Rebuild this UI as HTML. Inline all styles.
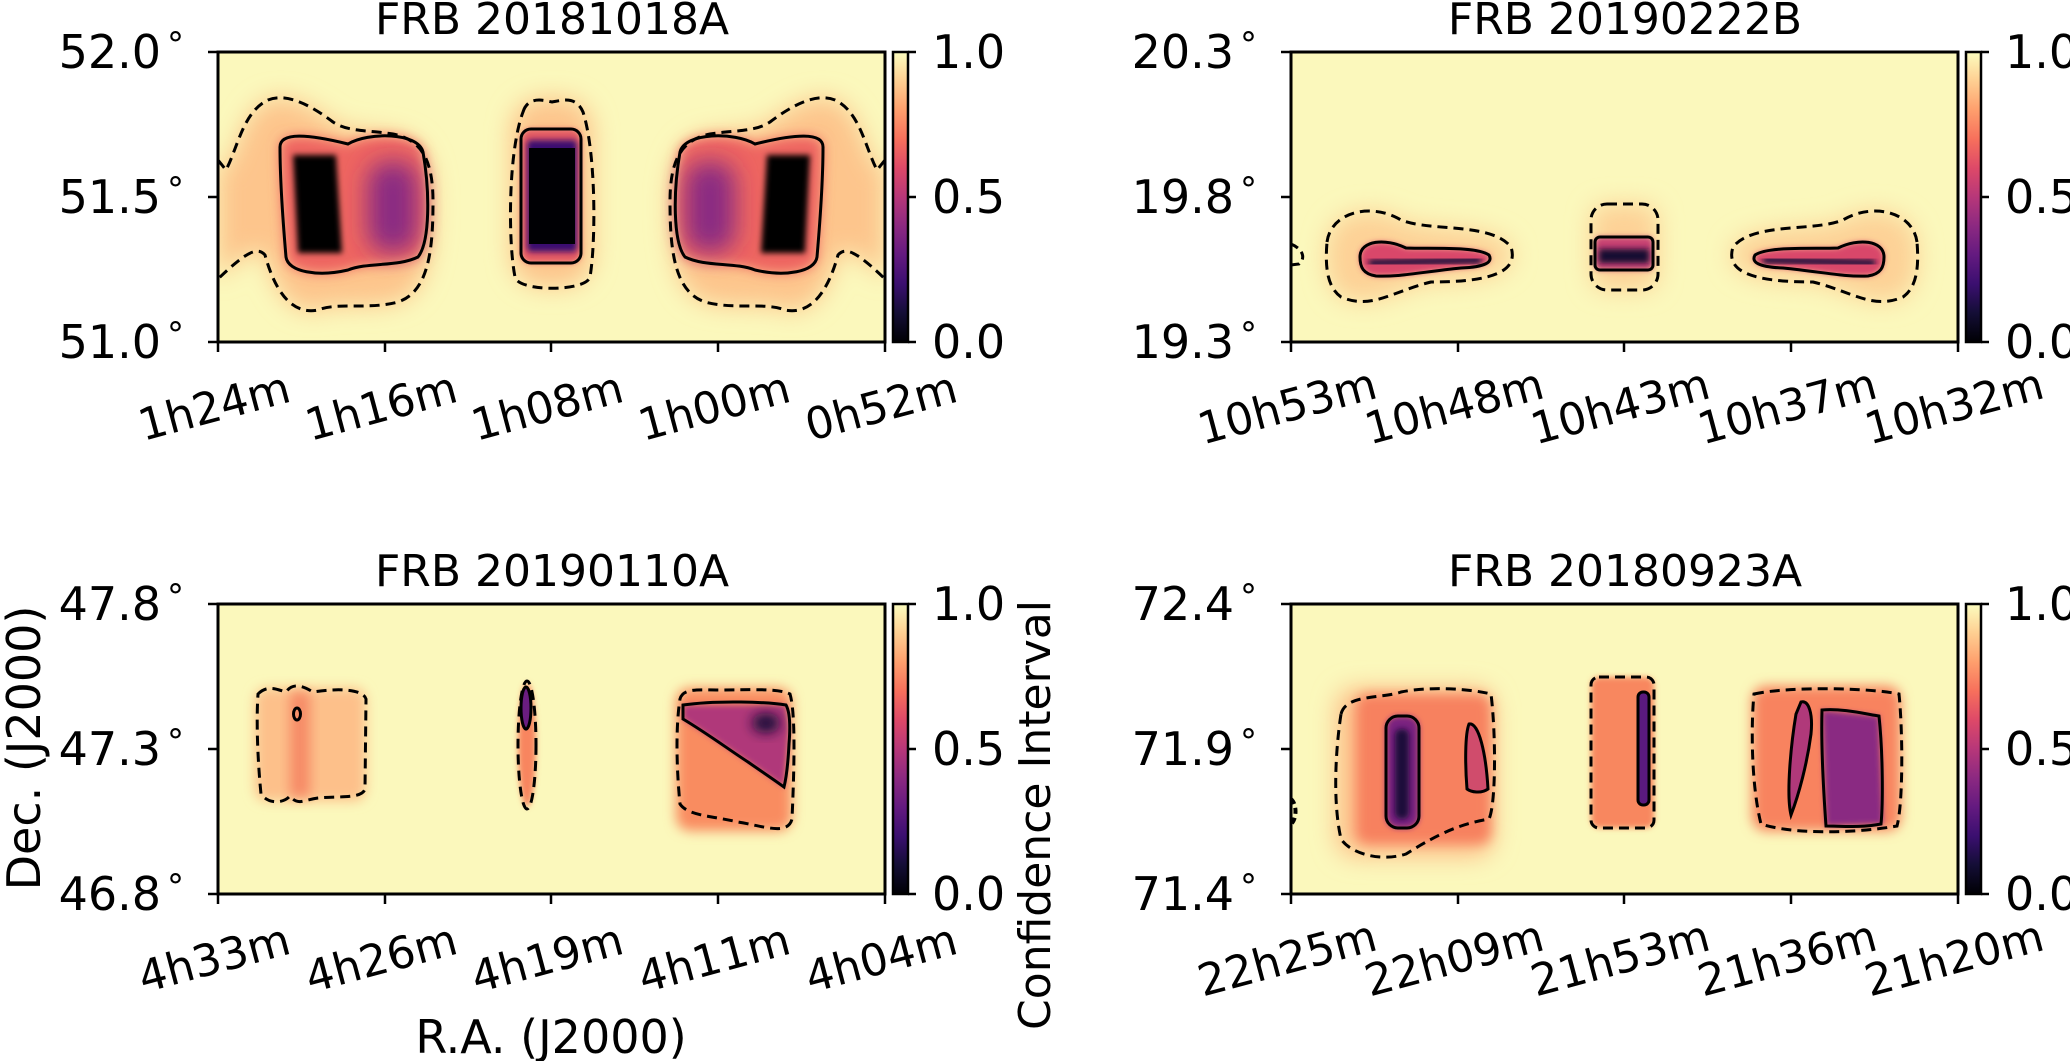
<!DOCTYPE html>
<html><head><meta charset="utf-8"><style>
html,body{margin:0;padding:0;background:#fff;}
svg{display:block;font-family:"DejaVu Sans","Liberation Sans",sans-serif;}
</style></head><body>
<svg width="2070" height="1061" viewBox="0 0 2070 1061" xmlns="http://www.w3.org/2000/svg">
<defs>
<linearGradient id="cb" x1="0" y1="1" x2="0" y2="0">
<stop offset="0" stop-color="#000004"/><stop offset="0.1" stop-color="#140e36"/><stop offset="0.2" stop-color="#3b0f70"/><stop offset="0.3" stop-color="#641a80"/><stop offset="0.4" stop-color="#8c2981"/><stop offset="0.5" stop-color="#b73779"/><stop offset="0.6" stop-color="#de4968"/><stop offset="0.7" stop-color="#f7705c"/><stop offset="0.8" stop-color="#fe9f6d"/><stop offset="0.9" stop-color="#fecf92"/><stop offset="1" stop-color="#fcfdbf"/>
</linearGradient>
<filter id="b12" x="-50%" y="-50%" width="200%" height="200%"><feGaussianBlur stdDeviation="12"/></filter>
<filter id="b6" x="-50%" y="-50%" width="200%" height="200%"><feGaussianBlur stdDeviation="6"/></filter>
<filter id="b3" x="-50%" y="-50%" width="200%" height="200%"><feGaussianBlur stdDeviation="3"/></filter>
<clipPath id="pc"><rect x="0" y="0" width="667" height="290"/></clipPath>
<g id="tlblob">
<path d="M0,108 L8,118 C20,95 25,60 50,48 C70,40 95,55 115,70 C130,80 150,78 175,82 C205,88 215,110 215,150 C215,200 210,240 180,250 C150,258 120,250 100,258 C80,262 60,250 47,203 C40,195 30,198 0,227 Z" fill="#fdc58c" filter="url(#b12)"/>
<path d="M62,95 C62,80 90,82 130,92 C150,80 200,80 205,100 C212,140 212,190 200,205 C180,215 150,210 130,218 C100,225 70,220 68,205 C65,170 62,130 62,95 Z" fill="#ee6560" filter="url(#b6)"/>
<path d="M75,103 L118,103 L124,201 L80,201 Z" fill="#000004" filter="url(#b3)"/>
<rect x="150" y="110" width="50" height="90" rx="20" fill="#8a2b82" filter="url(#b12)"/>
<path d="M0,108 L8,118 C20,95 25,60 50,48 C70,40 95,55 115,70 C130,80 150,78 175,82 C205,88 215,110 215,150 C215,200 210,240 180,250 C150,258 120,250 100,258 C80,262 60,250 47,203 C40,195 30,198 0,227" fill="none" stroke="#000" stroke-width="3" stroke-dasharray="10,6"/>
<path d="M62,95 C62,80 90,82 130,92 C150,80 200,80 205,100 C212,140 212,190 200,205 C180,215 150,210 130,218 C100,225 70,220 68,205 C65,170 62,130 62,95 Z" fill="none" stroke="#000" stroke-width="3"/>
</g>
<g id="trblob">
<path d="M36,190 C40,160 80,150 110,168 C140,180 200,170 220,195 C228,220 200,230 140,230 C100,240 80,258 50,245 C36,235 34,215 36,190 Z" fill="#fdd196" filter="url(#b12)"/>
<path d="M69,205 C69,188 95,186 115,196 C140,197 185,194 198,203 C202,210 195,215 170,216 C130,220 110,225 85,224 C72,222 69,215 69,205 Z" fill="#d9466a" filter="url(#b3)"/>
<path d="M78,211 L190,208" stroke="#1a0e3a" stroke-width="7" filter="url(#b3)"/>
<path d="M36,190 C40,160 80,150 110,168 C140,180 200,170 220,195 C228,220 200,230 140,230 C100,240 80,258 50,245 C36,235 34,215 36,190 Z" fill="none" stroke="#000" stroke-width="3" stroke-dasharray="10,6"/>
<path d="M69,205 C69,188 95,186 115,196 C140,197 185,194 198,203 C202,210 195,215 170,216 C130,220 110,225 85,224 C72,222 69,215 69,205 Z" fill="none" stroke="#000" stroke-width="3"/>
</g>
</defs>

<!-- ===== Panel TL ===== -->
<g transform="translate(218,52)">
<g clip-path="url(#pc)">
<rect width="667" height="290" fill="#fbf8bc"/>
<use href="#tlblob"/>
<use href="#tlblob" transform="translate(667,0) scale(-1,1)"/>
<rect x="293" y="46" width="82" height="189" rx="32" fill="#fdc58c" filter="url(#b12)"/>
<rect x="303" y="77" width="60" height="134" rx="10" fill="#e35a64" filter="url(#b3)"/>
<rect x="309" y="88" width="50" height="112" rx="4" fill="#3b0f70" filter="url(#b3)"/>
<rect x="311" y="96" width="46" height="96" fill="#000004"/>
<path d="M305,60 C310,44 325,48 334,50 C345,48 358,44 365,60 C378,100 378,190 372,225 C368,240 300,240 297,225 C290,190 290,100 305,60 Z" fill="none" stroke="#000" stroke-width="3" stroke-dasharray="10,6"/>
<rect x="303" y="77" width="60" height="134" rx="10" fill="none" stroke="#000" stroke-width="3"/>
</g>
<rect width="667" height="290" fill="none" stroke="#000" stroke-width="3"/>
</g>

<!-- ===== Panel TR ===== -->
<g transform="translate(1291,52)">
<g clip-path="url(#pc)">
<rect width="667" height="290" fill="#fbf8bc"/>
<use href="#trblob"/>
<use href="#trblob" transform="translate(662,0) scale(-1,1)"/>
<rect x="300" y="152" width="67" height="86" rx="16" fill="#fdd196" filter="url(#b12)"/>
<rect x="304" y="185" width="58" height="33" rx="5" fill="#c63f72" filter="url(#b3)"/>
<rect x="308" y="197" width="50" height="14" fill="#120c30" filter="url(#b3)"/>
<rect x="300" y="152" width="67" height="86" rx="16" fill="none" stroke="#000" stroke-width="3" stroke-dasharray="10,6"/>
<rect x="304" y="185" width="58" height="33" rx="5" fill="none" stroke="#000" stroke-width="3"/>
<path d="M0,192 C10,196 16,205 8,212 L0,213" fill="none" stroke="#000" stroke-width="3" stroke-dasharray="8,5"/>
</g>
<rect width="667" height="290" fill="none" stroke="#000" stroke-width="3"/>
</g>

<!-- ===== Panel BL ===== -->
<g transform="translate(218,604)">
<g clip-path="url(#pc)">
<rect width="667" height="290" fill="#fbf8bc"/>
<rect x="37" y="84" width="111" height="113" rx="12" fill="#fdc08a" filter="url(#b6)"/>
<rect x="72" y="88" width="20" height="105" fill="#f68a66" filter="url(#b6)"/>
<path d="M40,90 C50,80 60,86 68,88 C75,78 85,82 95,88 C120,84 145,85 148,95 L147,185 C144,195 120,192 100,194 C85,196 80,202 72,192 C65,200 50,200 43,190 C40,160 38,120 40,90 Z" fill="none" stroke="#000" stroke-width="3" stroke-dasharray="10,6"/>
<ellipse cx="79" cy="110" rx="3.5" ry="6" fill="none" stroke="#000" stroke-width="3"/>
<ellipse cx="309" cy="141" rx="9" ry="62" fill="#f8855f" filter="url(#b3)"/>
<ellipse cx="308" cy="104" rx="5" ry="20" fill="#6a1d80"/>
<ellipse cx="309" cy="141" rx="9" ry="64" fill="none" stroke="#000" stroke-width="3" stroke-dasharray="10,6"/>
<ellipse cx="308" cy="104" rx="5" ry="21" fill="none" stroke="#000" stroke-width="3"/>
<rect x="458" y="84" width="116" height="143" rx="14" fill="#f98c60" filter="url(#b6)"/>
<path d="M465,101 L568,101 L571,128 L566,183 L535,161 L496,135 L465,115 Z" fill="#b0397a" filter="url(#b3)"/>
<ellipse cx="548" cy="119" rx="14" ry="10" fill="#1a0e3a" filter="url(#b6)"/>
<path d="M462,95 C465,84 480,86 500,86 C530,86 560,84 572,90 C578,110 576,170 574,215 C570,232 545,222 520,218 C495,212 470,212 462,200 C458,160 458,120 462,95 Z" fill="none" stroke="#000" stroke-width="3" stroke-dasharray="10,6"/>
<path d="M465,101 C500,96 550,98 568,101 C573,110 572,128 571,140 C570,160 568,175 566,183 C555,175 540,165 530,158 C510,145 490,130 465,115 Z" fill="none" stroke="#000" stroke-width="3"/>
</g>
<rect width="667" height="290" fill="none" stroke="#000" stroke-width="3"/>
</g>

<!-- ===== Panel BR ===== -->
<g transform="translate(1291,604)">
<g clip-path="url(#pc)">
<rect width="667" height="290" fill="#fbf8bc"/>
<rect x="45" y="84" width="158" height="169" rx="20" fill="#fdc08a" filter="url(#b12)"/>
<rect x="65" y="90" width="135" height="150" rx="12" fill="#f7815e" filter="url(#b6)"/>
<rect x="95" y="112" width="33" height="112" rx="12" fill="#7a2280" filter="url(#b3)"/>
<rect x="104" y="125" width="14" height="90" rx="6" fill="#1a0e3a" filter="url(#b3)"/>
<path d="M50,110 C55,90 90,95 110,88 C140,82 180,85 200,90 C205,130 205,200 198,215 C170,220 150,228 115,250 C90,258 60,250 50,235 C42,200 44,150 50,110 Z" fill="none" stroke="#000" stroke-width="3" stroke-dasharray="10,6"/>
<rect x="95" y="112" width="33" height="112" rx="12" fill="none" stroke="#000" stroke-width="3"/>
<path d="M178,120 C188,118 195,150 197,185 C190,190 180,188 176,185 C174,160 174,130 178,120 Z" fill="#d04c6c" stroke="#000" stroke-width="3"/>
<path d="M0,195 C6,200 6,215 0,220" fill="none" stroke="#000" stroke-width="4" stroke-dasharray="6,4"/>
<rect x="300" y="73" width="63" height="151" rx="8" fill="#f8875f" filter="url(#b3)"/>
<rect x="300" y="73" width="63" height="151" rx="8" fill="none" stroke="#000" stroke-width="3" stroke-dasharray="10,6"/>
<rect x="347" y="88" width="11" height="113" rx="5" fill="#5a1a7e" stroke="#000" stroke-width="3"/>
<rect x="461" y="82" width="149" height="145" rx="14" fill="#f8835f" filter="url(#b6)"/>
<path d="M531,106 L588,112 L592,220 L535,222 Z" fill="#8a2b82" filter="url(#b3)"/>
<path d="M463,90 C500,82 580,84 608,90 C612,130 612,200 606,222 C560,230 500,230 470,220 C460,180 460,120 463,90 Z" fill="none" stroke="#000" stroke-width="3" stroke-dasharray="10,6"/>
<path d="M510,98 C518,96 522,110 520,130 C516,160 508,190 500,211 C495,190 500,140 505,110 Z" fill="#b0397a" stroke="#000" stroke-width="3"/>
<path d="M531,106 C550,104 575,110 588,112 C592,150 592,200 590,220 C570,224 550,222 535,222 C532,180 530,140 531,106 Z" fill="none" stroke="#000" stroke-width="3"/>
</g>
<rect width="667" height="290" fill="none" stroke="#000" stroke-width="3"/>
</g>

<!-- Colorbars -->
<g stroke="#000" stroke-width="2.5">
<rect x="893" y="52" width="15" height="290" fill="url(#cb)"/>
<rect x="1966" y="52" width="15" height="290" fill="url(#cb)"/>
<rect x="893" y="604" width="15" height="290" fill="url(#cb)"/>
<rect x="1966" y="604" width="15" height="290" fill="url(#cb)"/>
<path d="M908,52h8M908,197h8M908,342h8M1981,52h8M1981,197h8M1981,342h8M908,604h8M908,749h8M908,894h8M1981,604h8M1981,749h8M1981,894h8"/>
<path d="M208,52h10M208,197h10M208,342h10M1281,52h10M1281,197h10M1281,342h10M208,604h10M208,749h10M208,894h10M1281,604h10M1281,749h10M1281,894h10"/>
<path d="M218,342v10M385,342v10M551,342v10M718,342v10M885,342v10M1291,342v10M1458,342v10M1624,342v10M1791,342v10M1958,342v10M218,894v10M385,894v10M551,894v10M718,894v10M885,894v10M1291,894v10M1458,894v10M1624,894v10M1791,894v10M1958,894v10"/>
</g>

<g font-size="44" fill="#000">
<text x="552" y="34" text-anchor="middle">FRB 20181018A</text>
<text x="1625" y="34" text-anchor="middle">FRB 20190222B</text>
<text x="552" y="586" text-anchor="middle">FRB 20190110A</text>
<text x="1625" y="586" text-anchor="middle">FRB 20180923A</text>
</g>

<g font-size="46" fill="#000" text-anchor="end">
<text x="184" y="68">52.0<tspan dx="6" font-size="34" dy="-12">°</tspan></text><text x="184" y="213">51.5<tspan dx="6" font-size="34" dy="-12">°</tspan></text><text x="184" y="358">51.0<tspan dx="6" font-size="34" dy="-12">°</tspan></text>
<text x="1257" y="68">20.3<tspan dx="6" font-size="34" dy="-12">°</tspan></text><text x="1257" y="213">19.8<tspan dx="6" font-size="34" dy="-12">°</tspan></text><text x="1257" y="358">19.3<tspan dx="6" font-size="34" dy="-12">°</tspan></text>
<text x="184" y="620">47.8<tspan dx="6" font-size="34" dy="-12">°</tspan></text><text x="184" y="765">47.3<tspan dx="6" font-size="34" dy="-12">°</tspan></text><text x="184" y="910">46.8<tspan dx="6" font-size="34" dy="-12">°</tspan></text>
<text x="1257" y="620">72.4<tspan dx="6" font-size="34" dy="-12">°</tspan></text><text x="1257" y="765">71.9<tspan dx="6" font-size="34" dy="-12">°</tspan></text><text x="1257" y="910">71.4<tspan dx="6" font-size="34" dy="-12">°</tspan></text>
</g>
<g font-size="46" fill="#000">
<text x="932" y="68">1.0</text><text x="932" y="213">0.5</text><text x="932" y="358">0.0</text>
<text x="2005" y="68">1.0</text><text x="2005" y="213">0.5</text><text x="2005" y="358">0.0</text>
<text x="932" y="620">1.0</text><text x="932" y="765">0.5</text><text x="932" y="910">0.0</text>
<text x="2005" y="620">1.0</text><text x="2005" y="765">0.5</text><text x="2005" y="910">0.0</text>
</g>

<g font-size="44" fill="#000" text-anchor="middle">
<text transform="translate(218,421) rotate(-15)">1h24m</text>
<text transform="translate(385,421) rotate(-15)">1h16m</text>
<text transform="translate(551,421) rotate(-15)">1h08m</text>
<text transform="translate(718,421) rotate(-15)">1h00m</text>
<text transform="translate(885,421) rotate(-15)">0h52m</text>
<text transform="translate(1291,421) rotate(-15)">10h53m</text>
<text transform="translate(1458,421) rotate(-15)">10h48m</text>
<text transform="translate(1624,421) rotate(-15)">10h43m</text>
<text transform="translate(1791,421) rotate(-15)">10h37m</text>
<text transform="translate(1958,421) rotate(-15)">10h32m</text>
<text transform="translate(218,973) rotate(-15)">4h33m</text>
<text transform="translate(385,973) rotate(-15)">4h26m</text>
<text transform="translate(551,973) rotate(-15)">4h19m</text>
<text transform="translate(718,973) rotate(-15)">4h11m</text>
<text transform="translate(885,973) rotate(-15)">4h04m</text>
<text transform="translate(1291,973) rotate(-15)">22h25m</text>
<text transform="translate(1458,973) rotate(-15)">22h09m</text>
<text transform="translate(1624,973) rotate(-15)">21h53m</text>
<text transform="translate(1791,973) rotate(-15)">21h36m</text>
<text transform="translate(1958,973) rotate(-15)">21h20m</text>
</g>

<g font-size="46" fill="#000" text-anchor="middle">
<text x="551" y="1053">R.A. (J2000)</text>
<text transform="translate(40,748) rotate(-90)">Dec. (J2000)</text>
<text transform="translate(1050,815) rotate(-90)" font-size="44">Confidence Interval</text>
</g>
</svg>
</body></html>
